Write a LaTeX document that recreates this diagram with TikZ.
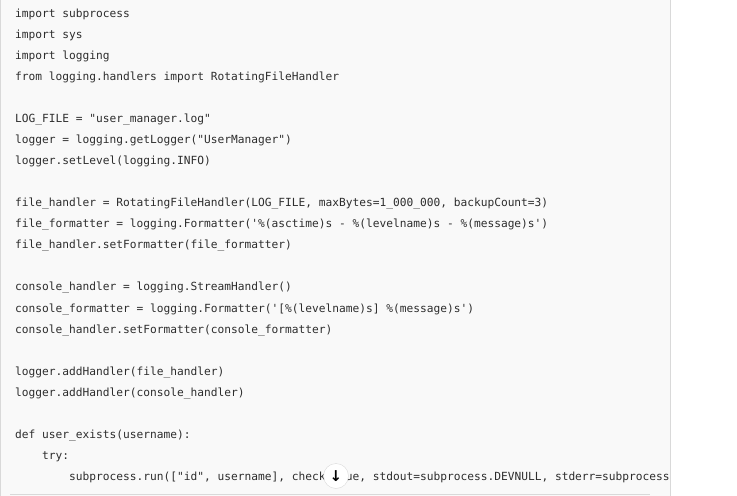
\documentclass[tikz,border=0pt]{standalone}
\usepackage{fontspec}
\newfontfamily\codefont{DejaVu Sans Mono}
\newfontfamily\symfont{DejaVu Sans}
\usetikzlibrary{positioning}
\definecolor{panelbg}{HTML}{F9F9F9}
\definecolor{panelrule}{HTML}{D9D9D9}
\definecolor{codetext}{HTML}{2D2D2D}
\tikzset{
code/.style={anchor=base west, inner sep=0pt, text=codetext, font=\codefont\fontsize{11.25}{13}\selectfont},
}
\begin{document}
\begin{tikzpicture}[x=1bp,y=-1bp]
\useasboundingbox (0,0) rectangle (737,496);
\fill[panelbg] (0,0) rectangle (670,496);
\draw[panelrule] (670,0) -- (670,496);
\draw[panelrule] (0.5,0) -- (0.5,496);
\draw[panelrule] (10,494) -- (650,494);

\node[code] (l1) at (15,18) {import subprocess};
\node[code] (l2) at (15,39) {import sys};
\node[code] (l3) at (15,60) {import logging};
\node[code] (l4) at (15,81) {from logging.handlers import RotatingFileHandler};

\node[code] (l5) at (15,123) {LOG\_FILE = "user\_manager.log"};
\node[code] (l6) at (15,144) {logger = logging.getLogger("UserManager")};
\node[code] (l7) at (15,165) {logger.setLevel(logging.INFO)};

\node[code] (l8) at (15,207) {file\_handler = RotatingFileHandler(LOG\_FILE, maxBytes=1\_000\_000, backupCount=3)};
\node[code] (l9) at (15,228) {file\_formatter = logging.Formatter('\%(asctime)s - \%(levelname)s - \%(message)s')};
\node[code] (l10) at (15,249) {file\_handler.setFormatter(file\_formatter)};

\node[code] (l11) at (15,291) {console\_handler = logging.StreamHandler()};
\node[code] (l12) at (15,312) {console\_formatter = logging.Formatter('[\%(levelname)s] \%(message)s')};
\node[code] (l13) at (15,333) {console\_handler.setFormatter(console\_formatter)};

\node[code] (l14) at (15,375) {logger.addHandler(file\_handler)};
\node[code] (l15) at (15,396) {logger.addHandler(console\_handler)};

\node[code] (l16) at (15,438) {def user\_exists(username):};
\node[code] (l17) at (42,459) {try:};
\begin{scope}
\clip (0,0) rectangle (668,496);
\node[code] (l18) at (69,480) {subprocess.run(["id", username], check=True, stdout=subprocess.DEVNULL, stderr=subprocess.DEVNULL)};
\end{scope}

% scroll button
\node[circle, fill=white, draw=panelrule, minimum size=25bp, inner sep=0pt,
  font=\symfont\bfseries\fontsize{15}{15}\selectfont] (down) at (336,476) {↓};
\end{tikzpicture}
\end{document}
